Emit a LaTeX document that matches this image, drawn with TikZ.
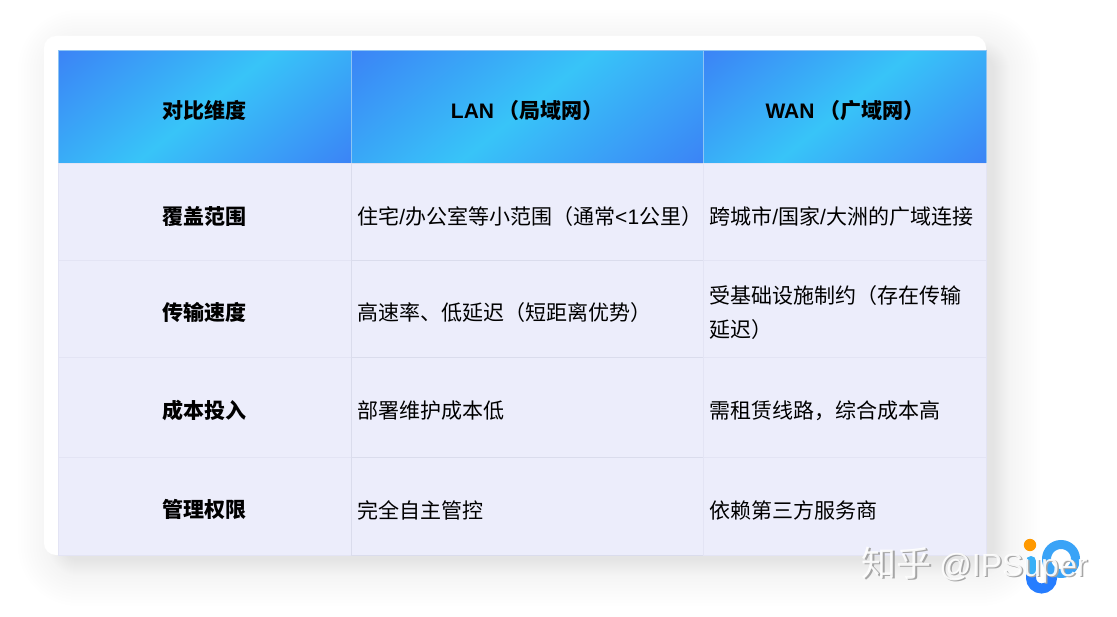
\documentclass[tikz,border=0pt]{standalone}
\usepackage{fontspec}
\setmainfont{Liberation Sans}
\newfontfamily\cjk{Noto Sans CJK SC}
\definecolor{headblue}{HTML}{3B82F6}
\definecolor{headcyan}{HTML}{38C4F8}
\definecolor{headline}{HTML}{8CC4F4}
\definecolor{cellfill}{HTML}{ECEDFB}
\definecolor{cellline}{HTML}{DADCEC}
\definecolor{softline}{HTML}{E3E4F4}
\pgfdeclareverticalshading{headshade}{100bp}{color(0bp)=(headblue); color(14bp)=(headblue);
    color(50bp)=(headcyan); color(86bp)=(headblue); color(100bp)=(headblue)}
\tikzset{
    headcell/.style={anchor=north west, minimum height=113pt, inner sep=0pt,
        draw=headline, line width=.8pt, shading=headshade, shading angle=39,
        font=\fontsize{21}{26}\selectfont\bfseries\cjk,
        execute at begin node={\rule{0pt}{26pt}}},
    labelcell/.style={anchor=north west, inner sep=0pt, text width=293pt, align=center,
        fill=cellfill, draw=softline, line width=.8pt,
        font=\fontsize{21}{26}\selectfont\bfseries\cjk,
        execute at begin node={\rule{0pt}{25pt}}},
    textcell/.style={anchor=north west, inner xsep=6pt, inner ysep=0pt, align=left,
        fill=cellfill, line width=.8pt, font=\fontsize{21}{34}\selectfont\cjk,
        execute at begin node={\rule{0pt}{25pt}}},
    lan/.style={textcell, draw=cellline, text width=340pt},
    wan/.style={textcell, draw=softline, text width=271pt},
    lowrow/.style={execute at begin node={\rule{0pt}{28pt}}}
}
\newcommand{\la}[1]{{\normalfont\fontsize{21}{26}\selectfont #1}}
\newcommand{\lb}[1]{{\normalfont\bfseries\fontsize{21}{26}\selectfont #1}}
\begin{document}
\begin{tikzpicture}[x=1pt, y=-1pt]
    \useasboundingbox (0, 0) rectangle (1117, 617);

    % soft shadow of the card
    \foreach\i in {0,1,...,16,19,22,...,46}
    \fill[black, opacity=.0035, rounded corners=(14+\i)*1pt]
        (64-\i, 56-\i) rectangle (994+\i, 560+\i);
    \fill[white, rounded corners=12pt] (44, 36) rectangle (986, 555);

    % header row
    \node[headcell, minimum width=293pt] (H1) at (58, 50) {对比维度};
    \node[headcell, minimum width=352pt] (H2) at (351, 50) {\lb{LAN} （局域网）};
    \node[headcell, minimum width=283pt] (H3) at (703, 50) {\lb{WAN} （广域网）};

    % first column
    \node[labelcell, lowrow, minimum height=97pt] (A1) at (58, 163) {覆盖范围};
    \node[labelcell, minimum height=97pt] (A2) at (58, 260) {传输速度};
    \node[labelcell, minimum height=100pt] (A3) at (58, 357) {成本投入};
    \node[labelcell, minimum height=98pt] (A4) at (58, 457) {管理权限};

    % LAN column
    \node[lan, lowrow, minimum height=97pt] (B1) at (351, 163)
    {住宅\la{/}办公室等小范围（通常\la{<1}公里）};
    \node[lan, minimum height=97pt] (B2) at (351, 260)
    {高速率、低延迟（短距离优势）};
    \node[lan, minimum height=100pt] (B3) at (351, 357)
    {部署维护成本低};
    \node[lan, minimum height=98pt] (B4) at (351, 457)
    {完全自主管控};

    % WAN column
    \node[wan, lowrow, minimum height=97pt] (C1) at (703, 163)
    {跨城市\la{/}国家\la{/}大洲的广域连接};
    \node[wan, minimum height=97pt] (C2) at (703, 260)
    {受基础设施制约（存在传输\\延迟）};
    \node[wan, minimum height=100pt] (C3) at (703, 357)
    {需租赁线路，综合成本高};
    \node[wan, minimum height=98pt] (C4) at (703, 457)
    {依赖第三方服务商};

    % logo
    \draw[line width=10pt, color=blue!60!cyan!85!white]
        (1031, 570) -- (1031, 578) arc[start angle=180, end angle=0, radius=10.5]
        -- (1052, 570);
    \draw[line width=10pt, color=headcyan!70!headblue, line cap=round] (1031, 561) -- (1031, 572);
    \draw[line width=9pt, color=headblue!50!headcyan] (1061, 559) circle[radius=14.5];
    \fill[orange!80!yellow] (1030, 545) circle[radius=6.2];

    % watermark
    \node[text=black!35, anchor=west] (W0) at (859.5, 566.5)
    {\fontsize{35}{40}\selectfont\cjk 知乎 \fontsize{32}{40}\selectfont\normalfont @IPSuper};
    \node[text=white, opacity=.9, anchor=west] (W1) at (858, 565)
    {\fontsize{35}{40}\selectfont\cjk 知乎 \fontsize{32}{40}\selectfont\normalfont @IPSuper};
\end{tikzpicture}
\end{document}
